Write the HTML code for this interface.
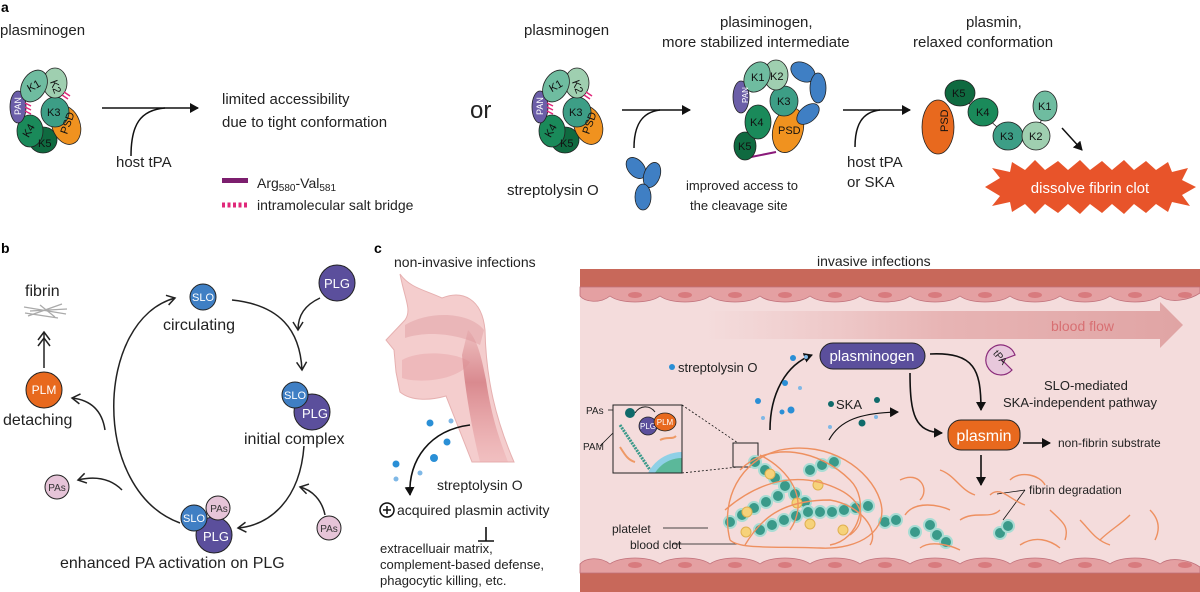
<!DOCTYPE html>
<html><head><meta charset="utf-8"><style>
html,body{margin:0;padding:0;background:#fff;}
svg{display:block;font-family:"Liberation Sans",Arial,sans-serif;}
</style></head><body>
<svg width="1200" height="592" viewBox="0 0 1200 592" xmlns="http://www.w3.org/2000/svg">
<defs>
<clipPath id="ic"><rect x="613" y="405" width="69" height="68"/></clipPath>
<marker id="ah" markerWidth="10" markerHeight="10" refX="8" refY="5" orient="auto" markerUnits="userSpaceOnUse"><path d="M0,0 L9,5 L0,10 Z" fill="#111"/></marker>
<marker id="ao" markerWidth="12" markerHeight="12" refX="9" refY="6" orient="auto" markerUnits="userSpaceOnUse"><path d="M1,1 L9,6 L1,11" fill="none" stroke="#222" stroke-width="1.5"/></marker>
<linearGradient id="bf" x1="0" x2="1"><stop offset="0" stop-color="#e8b5b5" stop-opacity="0"/><stop offset="0.5" stop-color="#e4aaaa" stop-opacity="0.8"/><stop offset="1" stop-color="#e0a4a4"/></linearGradient>
<linearGradient id="thr" x1="0" x2="0" y1="0" y2="1"><stop offset="0" stop-color="#d98a8f" stop-opacity="0.2"/><stop offset="0.4" stop-color="#d98a8f"/><stop offset="1" stop-color="#e9a0a3" stop-opacity="0.3"/></linearGradient>
<g id="clu">
<ellipse cx="43" cy="140" rx="14" ry="13" fill="#0f6a40" stroke="#222" stroke-width="0.8"/>
<ellipse cx="66" cy="125" rx="14" ry="20" transform="rotate(-20 66 125)" fill="#f0921f" stroke="#222" stroke-width="0.8"/>
<ellipse cx="30" cy="131" rx="13" ry="16" fill="#1a8a5a" stroke="#222" stroke-width="0.8"/>
<ellipse cx="55" cy="112" rx="14" ry="15" fill="#3d9e86" stroke="#222" stroke-width="0.8"/>
<ellipse cx="18" cy="107" rx="8" ry="16" fill="#6b5ea8" stroke="#222" stroke-width="0.8"/>
<ellipse cx="55" cy="83" rx="12" ry="15" fill="#9fcfb0" stroke="#222" stroke-width="0.8"/>
<ellipse cx="34" cy="86" rx="12" ry="17" transform="rotate(30 34 86)" fill="#6fbca0" stroke="#222" stroke-width="0.8"/>
<g font-size="11" fill="#111">
<text x="27" y="90" transform="rotate(-30 33 86)">K1</text>
<text x="51" y="88" transform="rotate(70 55 84)">K2</text>
<text x="47" y="116">K3</text>
<text x="22" y="135" transform="rotate(-60 28 131)">K4</text>
<text x="38" y="147">K5</text>
<text x="58" y="130" transform="rotate(-70 66 126)">PSD</text>
<text x="10" y="110" font-size="9" fill="#fff" transform="rotate(-90 18 107)">PAN</text>
</g>
<g stroke="#e0287a" stroke-width="1.5"><path d="M25,103 L31,106 M25,107 L31,110 M25,111 L31,114 M62,95 L68,99 M64,92 L70,96"/></g>
</g>
</defs>

<!-- PANEL A -->
<text x="1" y="12" font-size="14" font-weight="bold">a</text>
<g font-size="15" fill="#222">
<text x="0" y="35">plasminogen</text>
<text x="222" y="104">limited accessibility</text>
<text x="222" y="127">due to tight conformation</text>
<text x="116" y="167">host tPA</text>
<text x="470" y="118" font-size="24">or</text>
<text x="524" y="35">plasminogen</text>
<text x="720" y="27">plasiminogen,</text>
<text x="662" y="47">more stabilized intermediate</text>
<text x="966" y="27">plasmin,</text>
<text x="913" y="47">relaxed conformation</text>
<text x="507" y="195">streptolysin O</text>
<text x="847" y="167">host tPA</text>
<text x="847" y="187">or SKA</text>
</g>
<g font-size="13" fill="#222">
<text x="686" y="190">improved access to</text>
<text x="690" y="210">the cleavage site</text>
</g>
<g font-size="14" fill="#222">
<text x="257" y="188">Arg<tspan font-size="10" dy="3">580</tspan><tspan dy="-3">-Val</tspan><tspan font-size="10" dy="3">581</tspan></text>
<text x="257" y="210">intramolecular salt bridge</text>
</g>
<rect x="222" y="178" width="26" height="5" fill="#7c1e6e"/>
<line x1="222" y1="205" x2="249" y2="205" stroke="#e0287a" stroke-width="5" stroke-dasharray="3,2.5"/>
<use href="#clu"/>
<use href="#clu" x="522"/>
<g fill="none" stroke="#111" stroke-width="1.5">
<line x1="102" y1="108" x2="198" y2="108" marker-end="url(#ah)"/>
<path d="M131,156 C131,125 140,110 165,108"/>
<line x1="622" y1="110" x2="690" y2="110" marker-end="url(#ah)"/>
<path d="M634,148 C634,125 642,112 660,110"/>
<line x1="843" y1="110" x2="910" y2="110" marker-end="url(#ah)"/>
<path d="M855,147 C855,125 862,112 880,110"/>
<line x1="1062" y1="128" x2="1082" y2="150" marker-end="url(#ah)"/>
</g>
<g stroke="#222" stroke-width="0.8" fill="#3f7fc4">
<ellipse cx="636" cy="168" rx="8" ry="12" transform="rotate(-40 636 168)"/>
<ellipse cx="652" cy="175" rx="8" ry="13" transform="rotate(20 652 175)"/>
<ellipse cx="643" cy="197" rx="8" ry="13"/>
</g>
<g stroke="#222" stroke-width="0.8">
<line x1="746" y1="158" x2="776" y2="152" stroke="#8a1a7a" stroke-width="2"/>
<ellipse cx="745" cy="146" rx="11" ry="14" fill="#0f6a40"/>
<ellipse cx="788" cy="130" rx="15" ry="23" transform="rotate(15 788 130)" fill="#f0921f"/>
<ellipse cx="758" cy="122" rx="13" ry="17" fill="#1a8a5a"/>
<ellipse cx="784" cy="101" rx="14" ry="15" fill="#3d9e86"/>
<ellipse cx="741" cy="97" rx="8" ry="16" fill="#6b5ea8"/>
<ellipse cx="776" cy="75" rx="12" ry="15" fill="#9fcfb0"/>
<ellipse cx="757" cy="77" rx="12" ry="16" transform="rotate(30 757 77)" fill="#6fbca0"/>
<ellipse cx="803" cy="72" rx="9" ry="13" transform="rotate(-60 803 72)" fill="#3f7fc4"/>
<ellipse cx="818" cy="88" rx="8" ry="15" fill="#3f7fc4"/>
<ellipse cx="808" cy="114" rx="8" ry="13" transform="rotate(50 808 114)" fill="#3f7fc4"/>
</g>
<g font-size="11" fill="#111">
<text x="751" y="81">K1</text><text x="770" y="80">K2</text><text x="777" y="105">K3</text>
<text x="750" y="126">K4</text><text x="738" y="150">K5</text><text x="778" y="134">PSD</text>
<text x="737" y="106" font-size="8" fill="#fff" transform="rotate(-90 741 99)">PAN</text>
</g>
<g stroke="#222" stroke-width="0.8">
<path d="M958,95 L978,110 L1006,135 L1036,135 L1046,107" fill="none"/>
<ellipse cx="938" cy="127" rx="16" ry="27" fill="#e8691e"/>
<ellipse cx="960" cy="93" rx="15" ry="13" fill="#0f6a40"/>
<ellipse cx="983" cy="112" rx="15" ry="14" fill="#1a8a5a"/>
<ellipse cx="1008" cy="136" rx="15" ry="14" fill="#3d9e86"/>
<ellipse cx="1036" cy="136" rx="14" ry="14" fill="#9fcfb0"/>
<ellipse cx="1045" cy="106" rx="12" ry="15" fill="#6fbca0"/>
</g>
<g font-size="11" fill="#111">
<text x="952" y="97">K5</text><text x="976" y="116">K4</text><text x="1000" y="140">K3</text><text x="1029" y="140">K2</text><text x="1038" y="110">K1</text>
<text x="933" y="137" transform="rotate(-90 938 127)">PSD</text>
</g>
<polygon fill="#e8542a" points="985,187 1000,178 992,168 1010,172 1012,162 1025,170 1035,160 1045,170 1058,161 1068,170 1080,160 1090,170 1102,161 1112,170 1124,160 1134,170 1146,161 1156,170 1168,162 1172,172 1188,168 1182,180 1196,187 1182,195 1190,206 1172,202 1168,212 1156,204 1146,213 1134,204 1124,214 1112,204 1102,213 1090,204 1080,214 1068,204 1058,213 1045,204 1035,214 1025,204 1012,212 1010,202 992,206 1000,196"/>
<text x="1090" y="193" font-size="15" fill="#fff" text-anchor="middle">dissolve fibrin clot</text>

<!-- PANEL B -->
<text x="1" y="253" font-size="14" font-weight="bold">b</text>
<g font-size="16" fill="#222">
<text x="25" y="296">fibrin</text>
<text x="3" y="425">detaching</text>
<text x="163" y="330">circulating</text>
<text x="244" y="444">initial complex</text>
<text x="60" y="568">enhanced PA activation on PLG</text>
</g>
<g stroke="#aaa" stroke-width="1.3"><path d="M24,307 L66,314 M28,316 L62,304 M30,311 L67,309 M25,313 L58,318 M40,305 L55,317"/></g>
<g fill="none" stroke="#222" stroke-width="1.5">
<line x1="44" y1="368" x2="44" y2="332"/><path d="M38,340 L44,332 L50,340 M38,346 L44,338 L50,346"/>
<path d="M180,523 C90,490 95,320 175,298" marker-end="url(#ao)"/>
<path d="M232,300 C280,305 300,330 302,370" marker-end="url(#ao)"/>
<path d="M304,446 C300,500 270,525 238,528" marker-end="url(#ao)"/>
<path d="M320,298 C305,305 298,315 298,330" marker-end="url(#ao)"/>
<path d="M325,515 C322,500 312,490 300,487" marker-end="url(#ao)"/>
<path d="M105,430 C102,410 90,400 72,398" marker-end="url(#ao)"/>
<path d="M122,490 C110,478 95,476 78,480" marker-end="url(#ao)"/>
</g>
<g stroke="#222" stroke-width="1">
<circle cx="44" cy="390" r="18" fill="#e8691e"/>
<circle cx="203" cy="297" r="13" fill="#3f7fc4"/>
<circle cx="337" cy="283" r="18" fill="#5b4f9c"/>
<circle cx="312" cy="412" r="18" fill="#5b4f9c"/>
<circle cx="295" cy="395" r="13" fill="#3f7fc4"/>
<circle cx="214" cy="535" r="18" fill="#5b4f9c"/>
<circle cx="218" cy="508" r="12" fill="#e6c4d8"/>
<circle cx="194" cy="518" r="13" fill="#3f7fc4"/>
<circle cx="57" cy="487" r="12" fill="#e6c4d8"/>
<circle cx="329" cy="528" r="12" fill="#e6c4d8"/>
</g>
<g font-size="11" fill="#fff" text-anchor="middle">
<text x="44" y="394" font-size="12">PLM</text>
<text x="203" y="301">SLO</text>
<text x="337" y="288" font-size="13">PLG</text>
<text x="315" y="418" font-size="13">PLG</text>
<text x="295" y="399">SLO</text>
<text x="216" y="541" font-size="13">PLG</text>
<text x="194" y="522">SLO</text>
<text x="219" y="512" fill="#333" font-size="10">PAs</text>
<text x="57" y="491" fill="#333" font-size="10">PAs</text>
<text x="329" y="532" fill="#333" font-size="10">PAs</text>
</g>

<!-- PANEL C left -->
<text x="374" y="253" font-size="14" font-weight="bold">c</text>
<text x="394" y="267" font-size="14" fill="#222">non-invasive infections</text>
<path d="M400,274 C405,300 412,310 405,320 L386,340 L394,350 L396,372 L400,392 C412,402 432,400 446,396 L472,462 L514,462 C496,420 486,380 485,330 C482,298 462,290 442,298 C425,290 410,288 400,274 Z" fill="#f4cdcd" stroke="#e6b0b0" stroke-width="1"/>
<path d="M405,325 C430,310 470,312 484,330 L480,345 C460,335 430,330 405,338 Z" fill="#eab6b8"/>
<path d="M402,360 C420,350 455,352 470,362 C460,380 420,384 402,378 Z" fill="#eeb9bb"/>
<path d="M468,330 C478,340 482,360 486,380 C492,420 500,440 508,462 L480,462 C472,430 465,390 462,355 Z" fill="url(#thr)"/>
<g fill="#2a8fd6"><circle cx="430" cy="423" r="3.5"/><circle cx="447" cy="442" r="3.5"/><circle cx="434" cy="458" r="4"/><circle cx="396" cy="464" r="3.5"/></g>
<g fill="#7fb8e6"><circle cx="451" cy="421" r="2.5"/><circle cx="420" cy="473" r="2.5"/><circle cx="396" cy="479" r="2.5"/></g>
<path d="M470,425 C430,430 408,460 410,495" fill="none" stroke="#111" stroke-width="1.6" marker-end="url(#ah)"/>
<g font-size="14" fill="#222">
<text x="437" y="490">streptolysin O</text>
<text x="397" y="515">acquired plasmin activity</text>
</g>
<circle cx="387" cy="510" r="7" fill="none" stroke="#111" stroke-width="1.5"/>
<path d="M383,510 H391 M387,506 V514" stroke="#111" stroke-width="1.5"/>
<path d="M486,527 V541 M478,541 H494" stroke="#111" stroke-width="1.6"/>
<g font-size="13" fill="#222">
<text x="380" y="553">extracelluair matrix,</text>
<text x="380" y="569">complement-based defense,</text>
<text x="380" y="585">phagocytic killing, etc.</text>
</g>

<!-- PANEL C right: vessel -->
<text x="817" y="266" font-size="14" fill="#222">invasive infections</text>
<rect x="580" y="269" width="620" height="323" fill="#f4dcdc"/>
<rect x="580" y="269" width="620" height="18" fill="#c8685a"/>
<rect x="580" y="573" width="620" height="19" fill="#c8685a"/>
<g fill="#e4a0a2" stroke="#c0707a" stroke-width="0.8">
<path d="M580,287 h620 v6 C1190,300 1170,304 1160,296 C1150,304 1120,304 1110,296 C1100,304 1070,304 1060,296 C1050,304 1020,304 1010,296 C1000,304 970,304 960,296 C950,304 920,304 910,296 C900,304 870,304 860,296 C850,304 820,304 810,296 C800,304 770,304 760,296 C750,304 720,304 710,296 C700,304 670,304 660,296 C650,304 620,304 610,296 C600,304 585,302 580,296 Z"/>
<path d="M580,573 h620 v-6 C1190,560 1170,556 1160,564 C1150,556 1120,556 1110,564 C1100,556 1070,556 1060,564 C1050,556 1020,556 1010,564 C1000,556 970,556 960,564 C950,556 920,556 910,564 C900,556 870,556 860,564 C850,556 820,556 810,564 C800,556 770,556 760,564 C750,556 720,556 710,564 C700,556 670,556 660,564 C650,556 620,556 610,564 C600,556 585,558 580,564 Z"/>
</g>
<g fill="#d87b7e">
<ellipse cx="635" cy="295" rx="7" ry="3"/><ellipse cx="685" cy="295" rx="7" ry="3"/><ellipse cx="735" cy="295" rx="7" ry="3"/><ellipse cx="785" cy="295" rx="7" ry="3"/><ellipse cx="835" cy="295" rx="7" ry="3"/><ellipse cx="885" cy="295" rx="7" ry="3"/><ellipse cx="935" cy="295" rx="7" ry="3"/><ellipse cx="985" cy="295" rx="7" ry="3"/><ellipse cx="1035" cy="295" rx="7" ry="3"/><ellipse cx="1085" cy="295" rx="7" ry="3"/><ellipse cx="1135" cy="295" rx="7" ry="3"/><ellipse cx="1185" cy="295" rx="7" ry="3"/>
<ellipse cx="635" cy="565" rx="7" ry="3"/><ellipse cx="685" cy="565" rx="7" ry="3"/><ellipse cx="735" cy="565" rx="7" ry="3"/><ellipse cx="785" cy="565" rx="7" ry="3"/><ellipse cx="835" cy="565" rx="7" ry="3"/><ellipse cx="885" cy="565" rx="7" ry="3"/><ellipse cx="935" cy="565" rx="7" ry="3"/><ellipse cx="985" cy="565" rx="7" ry="3"/><ellipse cx="1035" cy="565" rx="7" ry="3"/><ellipse cx="1085" cy="565" rx="7" ry="3"/><ellipse cx="1135" cy="565" rx="7" ry="3"/><ellipse cx="1185" cy="565" rx="7" ry="3"/>
</g>
<path d="M705,311 H1160 V302 L1183,325 L1160,348 V339 H705 Z" fill="url(#bf)"/>
<text x="1051" y="331" font-size="14" fill="#d86f72">blood flow</text>
<rect x="820" y="343" width="105" height="26" rx="13" fill="#5b4f9c" stroke="#222" stroke-width="1"/>
<text x="872" y="361" font-size="15" fill="#fff" text-anchor="middle">plasminogen</text>
<rect x="948" y="420" width="72" height="30" rx="13" fill="#e8691e" stroke="#222" stroke-width="1"/>
<text x="984" y="441" font-size="16" fill="#fff" text-anchor="middle">plasmin</text>
<path d="M1002,360 L1012,370 A15,15 0 1 1 1015,355 Z" fill="#e8c8dc" stroke="#8a2a7a" stroke-width="1.2"/>
<text x="992" y="357" font-size="10" fill="#222" transform="rotate(50 996 356)">tPA</text>
<g font-size="13" fill="#222">
<text x="1044" y="390">SLO-mediated</text>
<text x="1003" y="407">SKA-independent pathway</text>
<text x="1058" y="447" font-size="12">non-fibrin substrate</text>
<text x="1029" y="494" font-size="12">fibrin degradation</text>
<text x="678" y="372">streptolysin O</text>
<text x="836" y="409">SKA</text>
<text x="612" y="533" font-size="12">platelet</text>
<text x="630" y="549" font-size="12">blood clot</text>
<text x="586" y="414" font-size="10">PAs</text>
<text x="583" y="450" font-size="10">PAM</text>
</g>
<circle cx="672" cy="367" r="3" fill="#2a8fd6"/>
<circle cx="831" cy="404" r="3" fill="#0f6a6a"/>
<g fill="none" stroke="#111" stroke-width="1.6">
<path d="M930,354 C975,352 981,370 981,410" marker-end="url(#ah)"/>
<path d="M910,373 C910,415 915,432 942,433" marker-end="url(#ah)"/>
<path d="M981,455 V485" marker-end="url(#ah)"/>
<path d="M1023,443 H1050" marker-end="url(#ah)"/>
<path d="M770,430 C770,395 785,365 812,355" marker-end="url(#ah)"/>
<path d="M829,440 C840,420 860,413 898,412" marker-end="url(#ah)" stroke-width="1.2"/>
</g>
<g stroke="#111" stroke-width="0.8" fill="none">
<path d="M1025,490 L997,494 M1025,490 L1003,520"/>
<path d="M663,528 H708 M672,544 H737"/>
<path d="M608,410 H624 M600,446 L616,430"/>
<path d="M682,405 L738,443 M682,473 L738,467" stroke-dasharray="2,2"/>
</g>
<g fill="#2a8fd6"><circle cx="785" cy="383" r="3"/><circle cx="793" cy="358" r="3"/><circle cx="791" cy="410" r="3.5"/><circle cx="758" cy="401" r="3"/><circle cx="782" cy="412" r="2.5"/></g>
<g fill="#7fb8e6"><circle cx="800" cy="388" r="2"/><circle cx="763" cy="418" r="2"/><circle cx="806" cy="357" r="2"/></g>
<g fill="#0f6a6a"><circle cx="877" cy="400" r="3"/><circle cx="862" cy="423" r="3.5"/></g>
<g fill="#7fb8e6"><circle cx="876" cy="417" r="2"/><circle cx="830" cy="427" r="2"/></g>
<!-- inset -->
<rect x="613" y="405" width="69" height="68" fill="#f4dcdc"/>
<g clip-path="url(#ic)">
<circle cx="682" cy="490" r="38" fill="#8fd0e6"/>
<circle cx="682" cy="490" r="32" fill="#5bb89a"/>
<path d="M620,425 L650,470" stroke="#3a9a8a" stroke-width="3" stroke-dasharray="2,1"/>
<path d="M620,447 C625,455 628,460 635,462" fill="none" stroke="#ee9966" stroke-width="2"/>
<path d="M660,440 C668,436 672,440 676,436" fill="none" stroke="#ee9966" stroke-width="2"/>
</g>
<rect x="613" y="405" width="69" height="68" fill="none" stroke="#222" stroke-width="1"/>
<circle cx="630" cy="413" r="5" fill="#0f6a6a"/>
<path d="M635,413 C640,405 650,405 655,412" fill="none" stroke="#222" stroke-width="1"/>
<circle cx="648" cy="426" r="9" fill="#5b4f9c" stroke="#222" stroke-width="0.8"/>
<text x="648" y="429" font-size="8" fill="#fff" text-anchor="middle">PLG</text>
<ellipse cx="665" cy="422" rx="11" ry="9" fill="#e8691e" stroke="#222" stroke-width="0.8"/>
<text x="665" y="425" font-size="8" fill="#fff" text-anchor="middle">PLM</text>
<rect x="733" y="443" width="25" height="24" fill="none" stroke="#222" stroke-width="1"/>
<!-- clot -->
<g fill="#3a9a8a" stroke="#a8dcd4" stroke-width="2">
<circle cx="755" cy="462" r="6"/><circle cx="765" cy="470" r="6"/><circle cx="775" cy="478" r="6"/><circle cx="785" cy="486" r="6"/><circle cx="795" cy="494" r="6"/><circle cx="805" cy="502" r="6"/>
<circle cx="730" cy="522" r="6"/><circle cx="742" cy="515" r="6"/><circle cx="754" cy="508" r="6"/><circle cx="766" cy="502" r="6"/><circle cx="778" cy="496" r="6"/>
<circle cx="760" cy="530" r="6"/><circle cx="772" cy="525" r="6"/><circle cx="784" cy="520" r="6"/><circle cx="796" cy="516" r="6"/><circle cx="808" cy="512" r="6"/><circle cx="820" cy="512" r="6"/><circle cx="832" cy="512" r="6"/><circle cx="844" cy="510" r="6"/><circle cx="856" cy="508" r="6"/><circle cx="868" cy="506" r="6"/>
<circle cx="810" cy="470" r="6"/><circle cx="822" cy="465" r="6"/><circle cx="834" cy="462" r="6"/>
<circle cx="885" cy="522" r="6"/><circle cx="896" cy="520" r="6"/>
<circle cx="915" cy="532" r="6"/>
<circle cx="930" cy="525" r="6"/><circle cx="937" cy="535" r="6"/><circle cx="946" cy="542" r="6"/>
<circle cx="1000" cy="533" r="6"/><circle cx="1008" cy="526" r="6"/>
</g>
<g fill="#f6d27a" stroke="#e0b050" stroke-width="1">
<circle cx="770" cy="474" r="5"/><circle cx="818" cy="485" r="5"/><circle cx="797" cy="503" r="5"/><circle cx="747" cy="512" r="5"/><circle cx="810" cy="524" r="5"/><circle cx="746" cy="532" r="5"/><circle cx="843" cy="530" r="5"/>
</g>
<g fill="none" stroke="#ee9060" stroke-width="1.4">
<path d="M730,540 C720,500 740,460 780,450 C830,440 870,470 880,500 C890,530 860,550 820,548 C780,546 740,550 730,540"/>
<path d="M740,470 C770,440 820,450 850,480 C870,500 860,540 830,545"/>
<path d="M725,510 C760,480 800,470 840,490 C860,500 870,520 850,535"/>
<path d="M745,545 C760,520 780,500 830,500 C860,505 880,530 870,545"/>
<path d="M760,455 C790,470 810,500 790,530"/>
<path d="M900,480 C920,470 930,490 920,500 M940,470 C955,475 960,490 975,495 M905,515 C915,500 940,505 950,510 M960,520 C975,510 990,520 1000,510 M1010,480 C1020,470 1040,475 1045,485 M1050,510 C1060,520 1070,525 1065,540 M920,548 C930,540 950,545 960,550 M1020,545 C1035,535 1050,540 1060,548 M1100,540 C1110,530 1120,525 1130,515 M1080,520 C1090,530 1095,540 1110,545 M1150,510 C1160,520 1160,530 1155,540 M990,495 C1000,485 1010,500 1025,505"/>
</g>
</svg>
</body></html>
